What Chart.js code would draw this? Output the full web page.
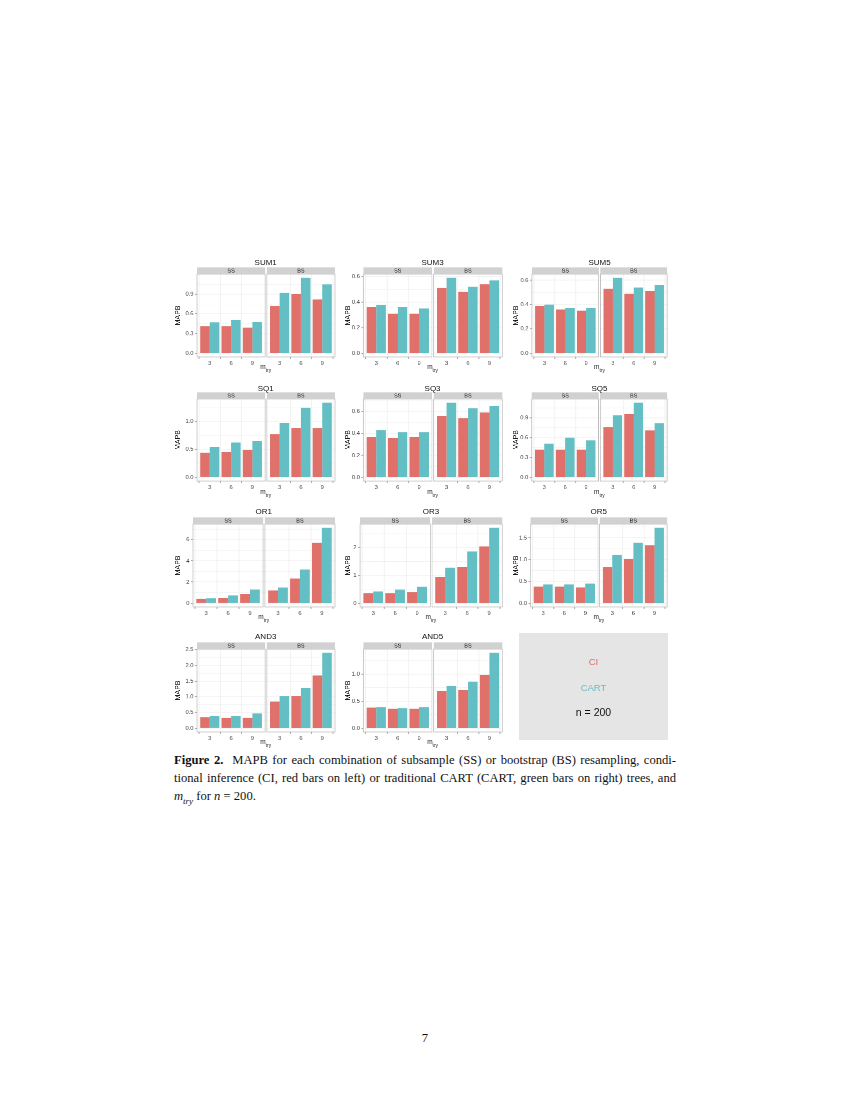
<!DOCTYPE html>
<html>
<head>
<meta charset="utf-8">
<script src="https://cdn.jsdelivr.net/npm/chart.js@4.4.0/dist/chart.umd.min.js"></script>
<style>
  body { margin: 0; background: #fff; }
  #page { position: relative; width: 850px; height: 1100px; background: #fff; overflow: hidden; }
  .panel { position: absolute; }
  .ptitle, .xtitle { position: absolute; transform: translate(-50%, -50%); white-space: nowrap;
    font-family: "Liberation Sans", Arial, sans-serif; color: #111; }
  .ptitle { font-size: 8px; }
  .xtitle { font-size: 6.5px; color: #222; }
  .xtitle sub { font-size: 4.8px; }
  #legendBox { position: absolute; left: 519px; top: 633px; width: 149px; height: 107px; background: #e5e5e5;
    font-family: "Liberation Sans", Arial, sans-serif; }
  #legendBox div { position: absolute; left: 0; width: 100%; text-align: center; transform: translateY(-50%); }
  .cap { position: absolute; left: 174px; width: 502px; font-family: "Liberation Serif", "DejaVu Serif", serif;
    font-size: 12.6px; color: #111; text-align: justify; text-align-last: justify; white-space: nowrap; line-height: 18px; }
  .cap.last { text-align-last: left; }
  #pageno { position: absolute; left: 425px; top: 1038px; transform: translate(-50%, -50%);
    font-family: "Liberation Serif", serif; font-size: 12.6px; color: #111; }
</style>
</head>
<body>
<div id="page"></div>
<script>
// ---- data ----
const panelNames = ['SUM1', 'SUM3', 'SUM5', 'SQ1', 'SQ3', 'SQ5', 'OR1', 'OR3', 'OR5', 'AND3', 'AND5'];
const facets = ['SS', 'BS'];
const mtry = ['3', '6', '9'];
const seriesNames = ['CI', 'CART'];

// values in order SS 3,6,9 then BS 3,6,9
const SUM1_CI   = [0.41, 0.41, 0.39, 0.72, 0.90, 0.82];
const SUM1_CART = [0.47, 0.51, 0.48, 0.92, 1.15, 1.05];
const SUM3_CI   = [0.36, 0.31, 0.31, 0.51, 0.48, 0.54];
const SUM3_CART = [0.38, 0.36, 0.35, 0.59, 0.52, 0.57];
const SUM5_CI   = [0.39, 0.36, 0.35, 0.53, 0.49, 0.51];
const SUM5_CART = [0.40, 0.37, 0.37, 0.62, 0.54, 0.56];
const SQ1_CI    = [0.44, 0.45, 0.49, 0.77, 0.88, 0.88];
const SQ1_CART  = [0.54, 0.62, 0.65, 0.97, 1.24, 1.33];
const SQ3_CI    = [0.37, 0.36, 0.37, 0.56, 0.54, 0.59];
const SQ3_CART  = [0.43, 0.41, 0.41, 0.68, 0.63, 0.65];
const SQ5_CI    = [0.42, 0.42, 0.42, 0.76, 0.96, 0.71];
const SQ5_CART  = [0.51, 0.60, 0.56, 0.94, 1.13, 0.82];
const OR1_CI    = [0.41, 0.50, 0.88, 1.20, 2.33, 5.71];
const OR1_CART  = [0.47, 0.73, 1.29, 1.48, 3.19, 7.13];
const OR3_CI    = [0.36, 0.36, 0.40, 0.95, 1.31, 2.04];
const OR3_CART  = [0.42, 0.49, 0.59, 1.28, 1.86, 2.71];
const OR5_CI    = [0.38, 0.38, 0.36, 0.83, 1.02, 1.33];
const OR5_CART  = [0.43, 0.43, 0.45, 1.11, 1.39, 1.73];
const AND3_CI   = [0.35, 0.33, 0.33, 0.85, 1.02, 1.68];
const AND3_CART = [0.39, 0.39, 0.47, 1.02, 1.29, 2.40];
const AND5_CI   = [0.38, 0.36, 0.36, 0.69, 0.70, 0.98];
const AND5_CART = [0.39, 0.37, 0.39, 0.78, 0.86, 1.39];

// y tick labels per panel
const SUM1_TICKS = ['0.0', '0.3', '0.6', '0.9'];
const SUM3_TICKS = ['0.0', '0.2', '0.4', '0.6'];
const SUM5_TICKS = ['0.0', '0.2', '0.4', '0.6'];
const SQ1_TICKS  = ['0.0', '0.5', '1.0'];
const SQ3_TICKS  = ['0.0', '0.2', '0.4', '0.6'];
const SQ5_TICKS  = ['0.0', '0.3', '0.6', '0.9'];
const OR1_TICKS  = ['0', '2', '4', '6'];
const OR3_TICKS  = ['0', '1', '2'];
const OR5_TICKS  = ['0.0', '0.5', '1.0', '1.5'];
const AND3_TICKS = ['0.0', '0.5', '1.0', '1.5', '2.0', '2.5'];
const AND5_TICKS = ['0.0', '0.5', '1.0'];

const ciData   = [SUM1_CI, SUM3_CI, SUM5_CI, SQ1_CI, SQ3_CI, SQ5_CI, OR1_CI, OR3_CI, OR5_CI, AND3_CI, AND5_CI];
const cartData = [SUM1_CART, SUM3_CART, SUM5_CART, SQ1_CART, SQ3_CART, SQ5_CART, OR1_CART, OR3_CART, OR5_CART, AND3_CART, AND5_CART];
const tickData = [SUM1_TICKS, SUM3_TICKS, SUM5_TICKS, SQ1_TICKS, SQ3_TICKS, SQ5_TICKS, OR1_TICKS, OR3_TICKS, OR5_TICKS, AND3_TICKS, AND5_TICKS];

// ---- layout (page pixels) ----
const colLeft = [172.7, 343, 510.7];
const colRight = [334.7, 501.8, 667.3];
const plotLeft = [196.7, 363.3, 531.7, 196.7, 363.3, 531.5, 192.7, 360, 530.3, 196.7, 363.3];
const rowTop = [274, 398.5, 524, 649];
const titleY = [261.5, 387.5, 511, 636];
const PLOT_H = 82.5, STRIP_H = 6.7, TOP_PAD = 8, XAXIS_H = 11;
// facet x positions (units of one category, ggplot-like 0.6 expansion)
const xPos = [1, 2, 3, 4.28, 5.28, 6.28];
const facetSpan = [[0.4, 3.6], [3.68, 6.88]];

const RED = '#e0706a', TEAL = '#64bfc5';
const FONT = '"Liberation Sans", Arial, sans-serif';

const facetPlugin = {
  id: 'facets',
  beforeDatasetsDraw(chart, args, opts) {
    const { ctx, chartArea: a, scales: { x, y } } = chart;
    ctx.save();
    ctx.strokeStyle = '#ececec';
    ctx.lineWidth = 0.35;
    opts.minor.forEach(v => {
      const py = y.getPixelForValue(v);
      ctx.beginPath(); ctx.moveTo(a.left, py); ctx.lineTo(a.right, py); ctx.stroke();
    });
    // white gap between facets
    const g0 = x.getPixelForValue(facetSpan[0][1]);
    const g1 = x.getPixelForValue(facetSpan[1][0]);
    ctx.fillStyle = '#fff';
    ctx.fillRect(g0, a.top - STRIP_H - 1, g1 - g0, a.bottom - a.top + STRIP_H + 4);
    ctx.restore();
  },
  afterDatasetsDraw(chart) {
    const { ctx, chartArea: a, scales: { x } } = chart;
    ctx.save();
    facetSpan.forEach((s, i) => {
      const l = x.getPixelForValue(s[0]);
      const r = x.getPixelForValue(s[1]);
      ctx.strokeStyle = '#bdbdbd';
      ctx.lineWidth = 0.7;
      ctx.strokeRect(l, a.top, r - l, a.bottom - a.top);
      ctx.fillStyle = '#d1d1d1';
      ctx.fillRect(l, a.top - STRIP_H, r - l, STRIP_H);
      ctx.fillStyle = '#1a1a1a';
      ctx.font = '5.5px ' + FONT;
      ctx.textAlign = 'center';
      ctx.textBaseline = 'middle';
      ctx.fillText(facets[i], (l + r) / 2, a.top - STRIP_H / 2 + 0.3);
    });
    ctx.restore();
  }
};

const page = document.getElementById('page');

panelNames.forEach((name, p) => {
  const row = Math.floor(p / 3), col = p % 3;
  const left = colLeft[col];
  const width = colRight[col] - left + 1;
  const top = rowTop[row] - TOP_PAD;
  const height = TOP_PAD + PLOT_H + XAXIS_H;

  const ticks = tickData[p].map(t => parseFloat(t));
  const dataMax = Math.max(...ciData[p], ...cartData[p]);
  const yMin = -0.05 * dataMax, yMax = 1.05 * dataMax;
  const step = ticks[1] - ticks[0];
  const minor = [];
  for (let i = 0; i < ticks.length; i++) {
    const m = ticks[i] + step / 2;
    if (m < yMax) minor.push(m);
  }

  const div = document.createElement('div');
  div.className = 'panel';
  Object.assign(div.style, { left: left + 'px', top: top + 'px', width: width + 'px', height: height + 'px' });
  const canvas = document.createElement('canvas');
  div.appendChild(canvas);
  page.appendChild(div);

  const t = document.createElement('div');
  t.className = 'ptitle';
  t.textContent = name;
  const mid = (plotLeft[p] + colRight[col]) / 2;
  Object.assign(t.style, { left: mid + 'px', top: titleY[row] + 'px' });
  page.appendChild(t);

  const xt = document.createElement('div');
  xt.className = 'xtitle';
  xt.innerHTML = 'm<sub>try</sub>';
  const gapX = plotLeft[p] + (colRight[col] - plotLeft[p]) * (3.64 - 0.4) / (6.88 - 0.4);
  Object.assign(xt.style, { left: gapX + 'px', top: (rowTop[row] + PLOT_H + 11.5) + 'px' });
  page.appendChild(xt);

  new Chart(canvas, {
    type: 'bar',
    data: {
      datasets: [
        { label: seriesNames[0], data: ciData[p].map((v, i) => ({ x: xPos[i], y: v })), backgroundColor: RED },
        { label: seriesNames[1], data: cartData[p].map((v, i) => ({ x: xPos[i], y: v })), backgroundColor: TEAL }
      ]
    },
    options: {
      responsive: true,
      maintainAspectRatio: false,
      animation: false,
      devicePixelRatio: 2,
      layout: { padding: { top: TOP_PAD, right: 1, left: 0, bottom: 0 } },
      datasets: { bar: { categoryPercentage: 0.9, barPercentage: 1.0, borderWidth: 0 } },
      plugins: { legend: { display: false }, tooltip: { enabled: false }, facets: { minor: minor } },
      scales: {
        x: {
          type: 'linear', min: 0.4, max: 6.88, offset: false,
          afterBuildTicks: s => { s.ticks = xPos.map(v => ({ value: v })); },
          afterFit: s => { s.height = XAXIS_H; },
          grid: { color: '#ebebeb', lineWidth: 0.6, tickLength: 2, tickColor: '#555', tickWidth: 0.5 },
          border: { display: false },
          ticks: { autoSkip: false, maxRotation: 0, padding: 1, color: '#444',
            font: { size: 5.8, family: FONT },
            callback: (v, i) => mtry[i % 3] }
        },
        y: {
          min: yMin, max: yMax,
          afterBuildTicks: s => { s.ticks = ticks.map(v => ({ value: v })); },
          afterFit: s => { s.width = plotLeft[p] - left; },
          grid: { color: '#ebebeb', lineWidth: 0.6, tickLength: 2, tickColor: '#555', tickWidth: 0.5 },
          border: { display: false },
          title: { display: true, text: 'MAPB', color: '#111', padding: { top: 1, bottom: 1 },
            font: { size: 7, family: FONT } },
          ticks: { autoSkip: false, padding: 1.5, color: '#444',
            font: { size: 5.8, family: FONT },
            callback: (v, i) => tickData[p][i] }
        }
      }
    },
    plugins: [facetPlugin]
  });
});

// legend panel
const lg = document.createElement('div');
lg.id = 'legendBox';
lg.innerHTML =
  '<div style="top:28px;color:' + RED + ';font-size:9.5px">' + seriesNames[0] + '</div>' +
  '<div style="top:54px;color:' + TEAL + ';font-size:9.5px">' + seriesNames[1] + '</div>' +
  '<div style="top:79px;color:#111;font-size:10.5px">n = 200</div>';
page.appendChild(lg);

// caption
const capLines = [
  '<b>Figure 2.</b>&nbsp; MAPB for each combination of subsample (SS) or bootstrap (BS) resampling, condi-',
  'tional inference (CI, red bars on left) or traditional CART (CART, green bars on right) trees, and',
  '<i>m</i><sub style="font-size:9px"><i>try</i></sub> for <i>n</i> = 200.'
];
capLines.forEach((html, i) => {
  const d = document.createElement('div');
  d.className = 'cap' + (i === 2 ? ' last' : '');
  d.style.top = (751 + i * 18) + 'px';
  d.innerHTML = html;
  page.appendChild(d);
});
const pn = document.createElement('div');
pn.id = 'pageno';
pn.textContent = '7';
page.appendChild(pn);
</script>
</body>
</html>
